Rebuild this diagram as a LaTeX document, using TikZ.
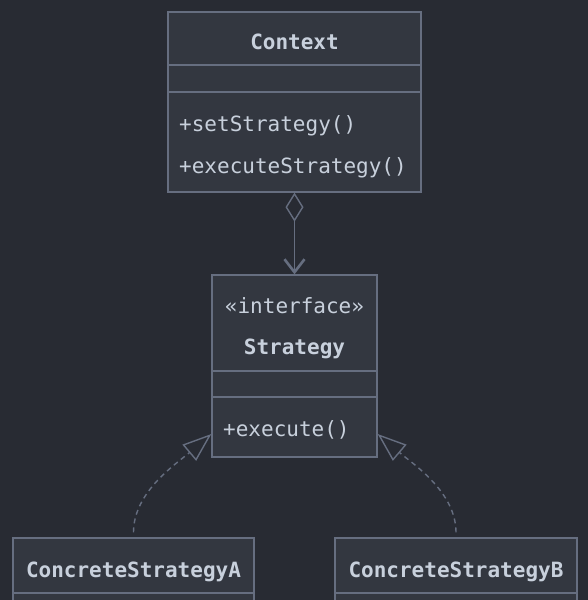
\documentclass[tikz,border=0pt]{standalone}
\usepackage{fontspec}
\setmonofont{DejaVu Sans Mono}
\usetikzlibrary{arrows.meta}
\definecolor{bg}{HTML}{282B33}
\definecolor{boxfill}{HTML}{333740}
\definecolor{edgec}{HTML}{666E80}
\definecolor{txt}{HTML}{C8D0DC}
\begin{document}
\begin{tikzpicture}[x=1pt,y=-1pt,
  classbox/.style={draw=edgec, fill=boxfill, line width=1.3pt, rectangle, inner sep=0pt},
  divider/.style={draw=edgec, line width=1.3pt},
  member/.style={text=txt, font=\ttfamily\fontsize{21}{25}\selectfont, inner sep=0pt},
  classname/.style={text=txt, font=\ttfamily\bfseries\fontsize{21}{25}\selectfont, inner sep=0pt},
  conn/.style={draw=edgec, line width=1.4pt},
  realize/.style={conn, dash pattern=on 5pt off 4pt,
    -{Triangle[open, length=29pt, width=21pt, fill=bg, line width=1.4pt]}},
  aggregate/.style={conn,
    {Diamond[open, length=29pt, width=18pt, fill=bg, line width=1.4pt]}-{Straight Barb[length=13pt, width=20pt, line width=2.6pt]}}
]
\fill[bg] (0,0) rectangle (588,600);
\useasboundingbox (0,0) rectangle (588,600);
\clip (0,0) rectangle (588,600);

% Context
\node[classbox, minimum width=253pt, minimum height=180pt] (ctx) at (294.5,102) {};
\draw[divider] (ctx.west |- 0,65) -- (ctx.east |- 0,65);
\draw[divider] (ctx.west |- 0,92) -- (ctx.east |- 0,92);
\node[classname, anchor=base] (ctxname) at (294.5,49) {Context};
\node[member, anchor=base west] (ctxm1) at (179,131) {+setStrategy()};
\node[member, anchor=base west] (ctxm2) at (179,173) {+executeStrategy()};

% Strategy
\node[classbox, minimum width=165pt, minimum height=182pt] (strat) at (294.5,366) {};
\draw[divider] (strat.west |- 0,371) -- (strat.east |- 0,371);
\draw[divider] (strat.west |- 0,397) -- (strat.east |- 0,397);
\node[member, anchor=base] (stereo) at (294.5,313) {«interface»};
\node[classname, anchor=base] (stratname) at (294.5,354) {Strategy};
\node[member, anchor=base west] (stratm1) at (223,436) {+execute()};

% Concrete strategies
\node[classbox, minimum width=241pt, minimum height=100pt] (ca) at (133.5,588) {};
\draw[divider] (ca.west |- 0,593) -- (ca.east |- 0,593);
\node[classname, anchor=base] (caname) at (133.5,577) {ConcreteStrategyA};

\node[classbox, minimum width=242pt, minimum height=100pt] (cb) at (456,588) {};
\draw[divider] (cb.west |- 0,593) -- (cb.east |- 0,593);
\node[classname, anchor=base] (cbname) at (456,577) {ConcreteStrategyB};

% Connectors
\draw[aggregate] (ctx.south) -- (strat.north);
\draw[realize, shorten <=5pt] (ca.north) .. controls (133.5,492) and (176,464) .. (strat.west |- 0,434);
\draw[realize, shorten <=5pt] (cb.north) .. controls (456,492) and (413,464) .. (strat.east |- 0,434);
\end{tikzpicture}
\end{document}
